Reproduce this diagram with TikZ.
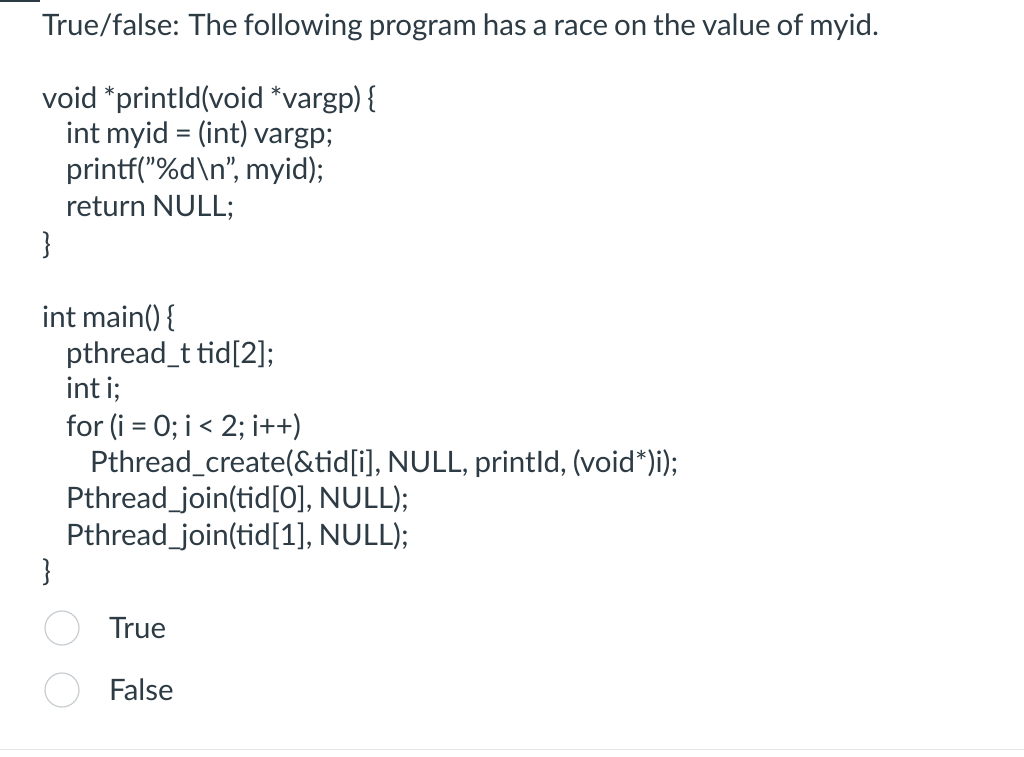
\documentclass[tikz,border=0pt]{standalone}
\usepackage{fontspec}
\setmainfont{Lato}[WordSpace={0.8}]
\definecolor{txt}{HTML}{2D3B45}
\definecolor{rad}{HTML}{C7CDD1}
\begin{document}
\begin{tikzpicture}[x=1pt,y=-1pt,
  t/.style={anchor=west,inner sep=0pt,text=txt,font=\fontsize{29.5}{32}\selectfont},
  radio/.style={circle,draw=rad,line width=1.2pt,minimum size=34pt,inner sep=0pt}]
\useasboundingbox[fill=white] (0,0) rectangle (1024,756);
\fill[txt] (0,0) rectangle (40,2);
\draw[rad!50,line width=1pt] (0,749) -- (1024,749);
\node[t] (title) at (42,27) {True/false: The following program has a race on the value of myid.};
\node[t] (l1) at (42,100) {void *printId(void *vargp) \{};
\node[t] (l2) at (66,135) {int myid = (int) vargp;};
\node[t] (l3) at (66,171) {printf(\symbol{34}\%d\textbackslash n\symbol{34}, myid);};
\node[t] (l4) at (66,208) {return NULL;};
\node[t] (l5) at (42,245) {\}};
\node[t] (m1) at (42,318) {int main() \{};
\node[t] (m2) at (66,355) {pthread\_t tid[2];};
\node[t] (m3) at (66,390) {int i;};
\node[t] (m4) at (66,427) {for (i = 0; i < 2; i++)};
\node[t] (m5) at (90,464) {Pthread\_create(\&tid[i], NULL, printId, (void*)i);};
\node[t] (m6) at (66,500) {Pthread\_join(tid[0], NULL);};
\node[t] (m7) at (66,537) {Pthread\_join(tid[1], NULL);};
\node[t] (m8) at (42,572) {\}};
\node[radio] (r1) at (62,628) {};
\node[radio] (r2) at (62,690) {};
\node[t] (o1) at (109,628) {True};
\node[t] (o2) at (109,690) {False};
\end{tikzpicture}
\end{document}
